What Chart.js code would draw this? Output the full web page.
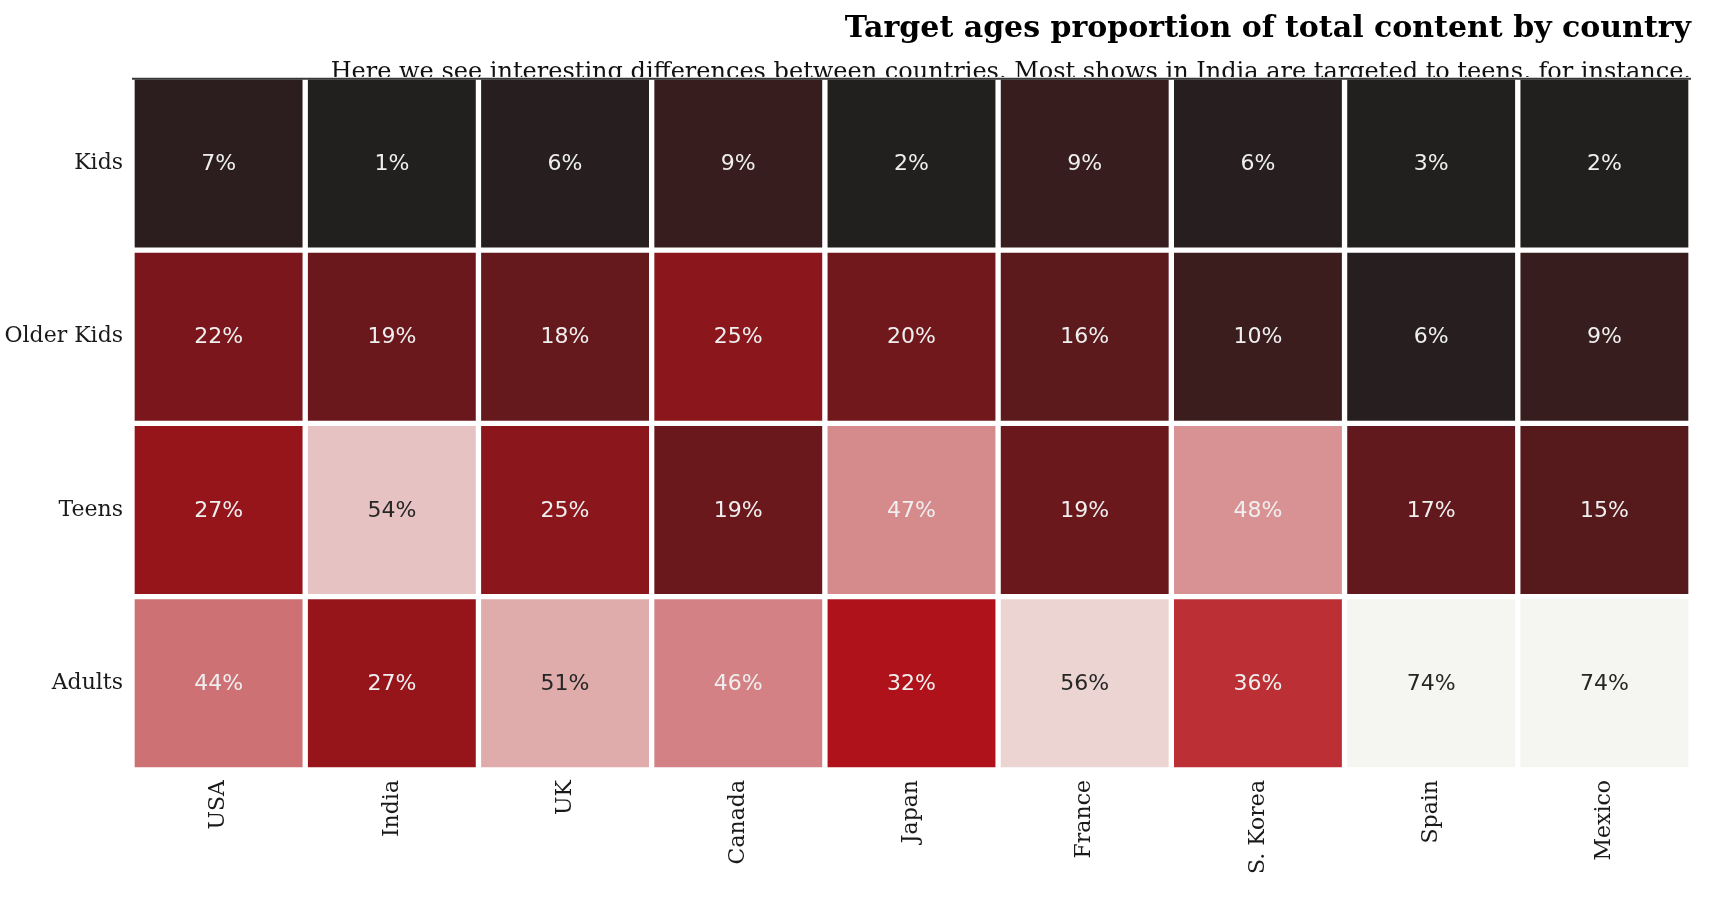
<!DOCTYPE html>
<html>
<head>
<meta charset="utf-8">
<script src="https://cdn.jsdelivr.net/npm/chart.js@4"></script>
<style>
  html, body { margin: 0; padding: 0; background: #fff; }
  #wrap { width: 1729px; height: 923px; }
</style>
</head>
<body>
<div id="wrap"><canvas id="heatmap"></canvas></div>
<script>
const countries = ['USA', 'India', 'UK', 'Canada', 'Japan', 'France', 'S. Korea', 'Spain', 'Mexico'];
const ageGroups = ['Kids', 'Older Kids', 'Teens', 'Adults'];

// share of each country's titles per target age (%)
const kids = [7, 1, 6, 9, 2, 9, 6, 3, 2];
const olderKids = [22, 19, 18, 25, 20, 16, 10, 6, 9];
const teens = [27, 54, 25, 19, 47, 19, 48, 17, 15];
const adults = [44, 27, 51, 46, 32, 56, 36, 74, 74];
const rows = [kids, olderKids, teens, adults];

// netflix-ish colormap, clipped between 5% and 60%
const cmapStops = ['#221f1f', '#b2121a', '#f5f5f1'];
const vmin = 5;
const vmax = 60;

function hexToRgb(h) {
  return [1, 3, 5].map((i) => parseInt(h.slice(i, i + 2), 16));
}

function cellRgb(v) {
  let t = (v - vmin) / (vmax - vmin);
  t = Math.max(0, Math.min(1, t));
  const seg = t < 0.5 ? 0 : 1;
  const f = seg === 0 ? t * 2 : (t - 0.5) * 2;
  const a = hexToRgb(cmapStops[seg]);
  const b = hexToRgb(cmapStops[seg + 1]);
  return a.map((c, i) => Math.round(c + (b[i] - c) * f));
}

function cellColor(v) {
  const [r, g, b] = cellRgb(v);
  return `rgb(${r}, ${g}, ${b})`;
}

// same rule seaborn uses to pick annotation colour
function textColor(v) {
  const lin = cellRgb(v).map((c) => {
    c = c / 255;
    return c <= 0.03928 ? c / 12.92 : Math.pow((c + 0.055) / 1.055, 2.4);
  });
  const lum = 0.2126 * lin[0] + 0.7152 * lin[1] + 0.0722 * lin[2];
  return lum > 0.408 ? '#262626' : '#efefef';
}

const serif = '"DejaVu Serif", serif';

const cellLabels = {
  id: 'cellLabels',
  afterDatasetsDraw(chart) {
    const ctx = chart.ctx;
    const area = chart.chartArea;
    ctx.save();
    ctx.font = '22px "DejaVu Sans", sans-serif';
    ctx.textAlign = 'center';
    ctx.textBaseline = 'middle';
    rows.forEach((vals, r) => {
      chart.getDatasetMeta(r).data.forEach((bar, c) => {
        ctx.fillStyle = textColor(vals[c]);
        ctx.fillText(vals[c] + '%', bar.x, (bar.y + bar.base) / 2 + 1);
      });
    });
    // thin top spine
    ctx.strokeStyle = '#3a3a3a';
    ctx.lineWidth = 2;
    ctx.beginPath();
    ctx.moveTo(area.left, area.top + 2);
    ctx.lineTo(area.right, area.top + 2);
    ctx.stroke();
    ctx.restore();
  },
};

const datasets = rows.map((vals, r) => ({
  label: ageGroups[r],
  data: vals.map(() => 1), // one unit tall cell per country
  backgroundColor: vals.map(cellColor),
  borderColor: '#ffffff',
  borderWidth: 3,
  borderSkipped: false,
  barPercentage: 1,
  categoryPercentage: 1,
}));

new Chart(document.getElementById('heatmap'), {
  type: 'bar',
  data: { labels: countries, datasets: datasets },
  options: {
    responsive: true,
    maintainAspectRatio: false,
    animation: false,
    layout: { padding: { top: 0, right: 38, bottom: 0, left: 0 } },
    plugins: {
      legend: { display: false },
      tooltip: { enabled: false },
      title: {
        display: true,
        text: 'Target ages proportion of total content by country',
        align: 'end',
        color: '#000',
        font: { family: serif, size: 30, weight: 'bold' },
        padding: { top: 11, bottom: 0 },
      },
      subtitle: {
        display: true,
        text: 'Here we see interesting differences between countries. Most shows in India are targeted to teens, for instance.',
        align: 'end',
        color: '#111',
        font: { family: serif, size: 24 },
        padding: { top: 11, bottom: -10 },
      },
    },
    scales: {
      x: {
        stacked: true,
        grid: { display: false, drawTicks: false },
        border: { display: false },
        ticks: {
          autoSkip: false,
          minRotation: 90,
          maxRotation: 90,
          padding: 10,
          color: '#1a1a1a',
          font: { family: serif, size: 22 },
        },
        afterFit(scale) {
          scale.height = 153;
        },
      },
      y: {
        stacked: true,
        reverse: true,
        min: 0,
        max: 4,
        grid: { display: false, drawTicks: false },
        border: { display: false },
        afterBuildTicks(scale) {
          scale.ticks = ageGroups.map((_, i) => ({ value: i + 0.5 }));
        },
        ticks: {
          padding: 9,
          color: '#1a1a1a',
          font: { family: serif, size: 22 },
          callback: (value, index) => ageGroups[index],
        },
        afterFit(scale) {
          scale.width = 132;
        },
      },
    },
  },
  plugins: [cellLabels],
});
</script>
</body>
</html>
